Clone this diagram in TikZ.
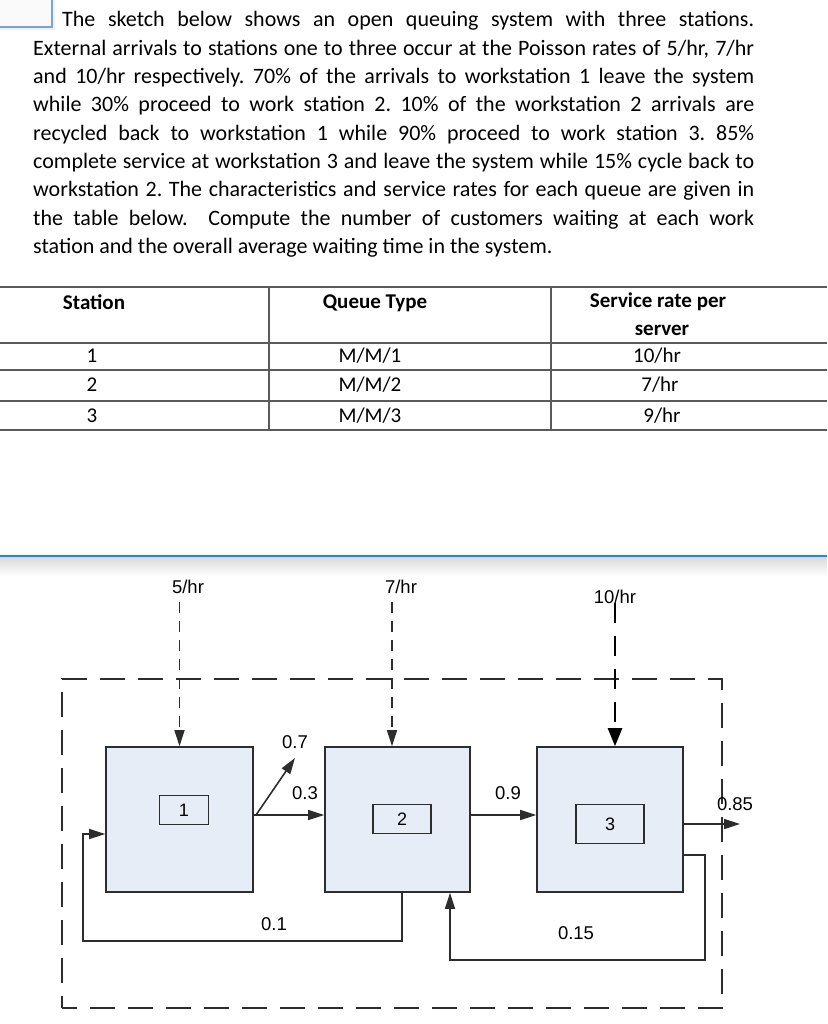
\documentclass[tikz,border=0pt]{standalone}
\usepackage{fontspec}
\setmainfont{Carlito}
\newfontfamily\arialf{Liberation Sans}
\usetikzlibrary{arrows.meta}
\definecolor{boxfill}{RGB}{230,237,246}
\definecolor{ln}{RGB}{45,45,45}
\definecolor{sepblue}{RGB}{30,136,229}
\definecolor{tabln}{RGB}{90,90,90}
\definecolor{cornerblue}{RGB}{120,165,215}
\begin{document}
\frenchspacing
\begin{tikzpicture}[x=1pt,y=-1pt,
  para/.style={inner sep=0pt,anchor=base west,font=\fontsize{22}{26}\selectfont},
  tabhead/.style={inner sep=0pt,font=\fontsize{21}{25}\selectfont\bfseries},
  tabcell/.style={inner sep=0pt,font=\fontsize{21}{25}\selectfont},
  tabline/.style={draw=tabln,line width=1.2pt},
  station/.style={draw=ln,fill=boxfill,line width=1.6pt,inner sep=0pt,minimum height=145pt},
  inbox/.style={draw=ln,line width=1.5pt,inner sep=0pt,font=\arialf\fontsize{18}{20}\selectfont},
  lab/.style={inner sep=0pt,font=\arialf\fontsize{18.5}{20}\selectfont},
  conn/.style={draw=ln,line width=1.6pt},
  arr/.style={conn,-{Triangle[length=16pt,width=10pt]}},
  inarrow/.style={draw=ln,line width=1.3pt,dash pattern=on 11pt off 8pt,-{Triangle[length=16pt,width=10pt]}},
  bigarrow/.style={draw=black,line width=2.6pt,dash pattern=on 20pt off 13pt,-{Triangle[length=18pt,width=14pt]}},
  sysbound/.style={draw=ln,line width=1.5pt,dash pattern=on 25pt off 13pt}
]
\useasboundingbox (0,0) rectangle (827,1024);
\fill[white] (0,0) rectangle (827,1024);

% corner box fragment
\fill[gray!12] (0,0) rectangle (55,30);
\fill[gray!4] (0,0) rectangle (52,27);
\draw[cornerblue,line width=1.2pt] (52,0) -- (52,27) -- (0,27);

% paragraph
\node[para] (l1) at (62,27) {\makebox[692pt][s]{The sketch below shows an open queuing system with three stations.}};
\node[para] (l2) at (33,55.3) {\makebox[721pt][s]{External arrivals to stations one to three occur at the Poisson rates of 5/hr, 7/hr}};
\node[para] (l3) at (33,83.6) {\makebox[721pt][s]{and 10/hr respectively. 70\% of the arrivals to workstation 1 leave the system}};
\node[para] (l4) at (33,112) {\makebox[721pt][s]{while 30\% proceed to work station 2. 10\% of the workstation 2 arrivals are}};
\node[para] (l5) at (33,140.3) {\makebox[721pt][s]{recycled back to workstation 1 while 90\% proceed to work station 3. 85\%}};
\node[para] (l6) at (33,168.6) {\makebox[721pt][s]{complete service at workstation 3 and leave the system while 15\% cycle back to}};
\node[para] (l7) at (33,197) {\makebox[721pt][s]{workstation 2. The characteristics and service rates for each queue are given in}};
\node[para] (l8) at (33,225.3) {\makebox[721pt][s]{the table below.\ \ Compute the number of customers waiting at each work}};
\node[para] (l9) at (33,253.6) {station and the overall average waiting time in the system.};

% table
\draw[tabline] (0,287) -- (827,287);
\draw[tabline] (0,343) -- (827,343);
\draw[tabline] (0,370) -- (827,370);
\draw[tabline] (0,401) -- (827,401);
\draw[draw=tabln,line width=2pt] (0,430) -- (827,430);
\draw[tabline] (269,287) -- (269,430);
\draw[tabline] (551,287) -- (551,430);
\node[tabhead] (h1) at (94,302) {Station};
\node[tabhead] (h2) at (375,303) {Queue Type};
\node[tabhead] (h3) at (658,302) {Service rate per};
\node[tabhead] (h3b) at (662,330) {server};
\node[tabcell] (c11) at (92,356) {1};
\node[tabcell] (c12) at (370,356) {M/M/1};
\node[tabcell] (c13) at (657,356) {10/hr};
\node[tabcell] (c21) at (92,385) {2};
\node[tabcell] (c22) at (370,385) {M/M/2};
\node[tabcell] (c23) at (660,385) {7/hr};
\node[tabcell] (c31) at (92,416) {3};
\node[tabcell] (c32) at (370,416) {M/M/3};
\node[tabcell] (c33) at (662,416) {9/hr};

% separator line with shadow
\shade[top color=gray!30,bottom color=white] (0,557) rectangle (827,576);
\draw[sepblue,line width=1.6pt] (0,556) -- (827,556);

% system boundary
\draw[sysbound,dash phase=13pt] (62,1008) -- (62,679) -- (722,679) -- (722,1008) -- cycle;

% stations
\node[station,minimum width=147pt] (b1) at (179.5,819.5) {};
\node[station,minimum width=145pt] (b2) at (397.5,819.5) {};
\node[station,minimum width=146pt] (b3) at (610,819.5) {};
\node[inbox,minimum width=49pt,minimum height=29pt] (i1) at (184,810) {1};
\node[inbox,minimum width=58pt,minimum height=29pt] (i2) at (402,819) {2};
\node[inbox,minimum width=68pt,minimum height=39pt] (i3) at (610,824) {3};

% external arrivals
\node[lab] (r1) at (188,587) {5/hr};
\node[lab] (r2) at (401,587) {7/hr};
\node[lab] (r3) at (615,597) {10/hr};
\coordinate (s1) at (179.5,602);
\coordinate (s2) at (392,602);
\coordinate (s3) at (615,603);
\draw[inarrow] (s1) -- (s1 |- b1.north);
\draw[inarrow] (s2) -- (s2 |- b2.north);
\draw[bigarrow] (s3) -- (s3 |- b3.north);

% station 1 outputs
\coordinate (sp) at (256,815);
\coordinate (t07) at (295,758);
\draw[conn] (sp -| b1.east) -- (sp);
\draw[arr] (sp) -- (sp -| b2.west);
\draw[arr] (sp) -- (t07);
\node[lab] (p07) at (295,742) {0.7};
\node[lab] (p03) at (305,793) {0.3};

% station 2 -> 3
\coordinate (y23) at (500,815);
\draw[arr] (y23 -| b2.east) -- (y23 -| b3.west);
\node[lab] (p09) at (508,793) {0.9};

% station 3 exit
\coordinate (ex) at (740,824);
\draw[arr] (ex -| b3.east) -- (ex);
\node[lab] (p085) at (735,804) {0.85};

% feedback 0.15
\coordinate (f1) at (705,855);
\coordinate (f2) at (705,960);
\coordinate (f3) at (450,960);
\draw[arr] (f1 -| b3.east) -- (f1) -- (f2) -- (f3) -- (f3 |- b2.south);
\node[lab] (p015) at (576,933) {0.15};

% feedback 0.1
\coordinate (g0) at (402,892);
\coordinate (g1) at (402,941);
\coordinate (g2) at (83,941);
\coordinate (g3) at (83,834);
\draw[arr] (g0 |- b2.south) -- (g1) -- (g2) -- (g3) -- (g3 -| b1.west);
\node[lab] (p01) at (274,924) {0.1};
\end{tikzpicture}
\end{document}
